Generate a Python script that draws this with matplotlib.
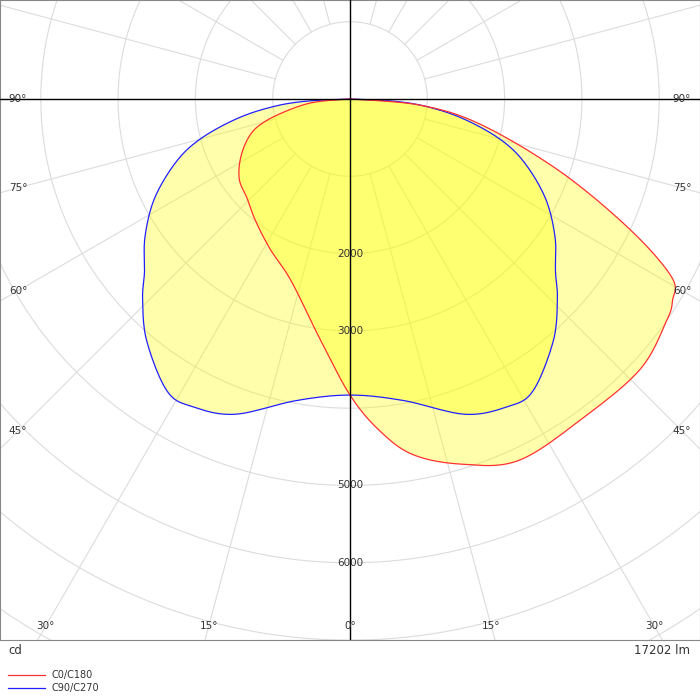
import numpy as np
import matplotlib.pyplot as plt

# Intensity values (cd), angle 0 = straight down
C90_ANG = [0, 10, 20, 27, 32, 40, 46, 50, 56, 63, 70, 75, 80, 84, 87, 90]
C90_CD = [3830, 3960, 4340, 4470, 4460, 4090, 3730, 3470, 3200, 2840, 2400, 2010, 1500, 1040, 600, 0]

C0_ANG = [0, 5, 10, 17, 25, 36, 47, 55, 58, 61, 65, 71, 79, 85, 90]
C0_CD = [3830, 4300, 4670, 4940, 5160, 5110, 5130, 5000, 4920, 4760, 4000, 2870, 1720, 910, 0]
C180_ANG = [0, 7, 18, 28, 38, 46, 54, 62, 70, 75, 80, 85, 90]
C180_CD = [3830, 3140, 2470, 2200, 1990, 1850, 1770, 1600, 1380, 1150, 790, 450, 0]

RINGS = list(range(1000, 10001, 1000))
RING_LABELS = [2000, 3000, 5000, 6000]
SIDE_LABELS = [45, 60, 75, 90]
BOTTOM_LABELS = [30, 15, 0]
LUMEN = "17202 lm"

S = 0.0773  # px per cd
XMAX = 350 / S
YTOP = 99 / S
YBOT = -541 / S


def catmull(px, py, n=12):
    """Smooth a polyline through its points (Catmull-Rom)."""
    p = np.column_stack([px, py])
    p = np.vstack([p[0], p, p[-1]])
    out = []
    tt = np.linspace(0, 1, n, endpoint=False)[:, None]
    for i in range(1, len(p) - 2):
        p0, p1, p2, p3 = p[i - 1], p[i], p[i + 1], p[i + 2]
        seg = 0.5 * ((2 * p1) + (-p0 + p2) * tt + (2 * p0 - 5 * p1 + 4 * p2 - p3) * tt ** 2
                     + (-p0 + 3 * p1 - 3 * p2 + p3) * tt ** 3)
        out.append(seg)
    out.append(p[-2][None, :])
    o = np.vstack(out)
    return o[:, 0], o[:, 1]


def xy(ang, cd, side):
    a = np.radians(ang)
    cd = np.asarray(cd, float)
    return side * cd * np.sin(a), -cd * np.cos(a)


fig = plt.figure(figsize=(7, 7), dpi=100)
ax = fig.add_axes([0, 60 / 700, 1, 640 / 700])
ax.set_xlim(-XMAX, XMAX)
ax.set_ylim(YBOT, YTOP)
ax.set_xticks([])
ax.set_yticks([])
for s in ax.spines.values():
    s.set_color("#888888")

t = np.linspace(0, 2 * np.pi, 400)
for r in RINGS:
    ax.plot(r * np.cos(t), r * np.sin(t), color="#dcdcdc", lw=0.8, zorder=1)
for a in range(0, 360, 15):
    ar = np.radians(a)
    ax.plot([1000 * np.sin(ar), 12000 * np.sin(ar)], [-1000 * np.cos(ar), -12000 * np.cos(ar)],
            color="#dcdcdc", lw=0.8, zorder=1)
ax.axhline(0, color="black", lw=1, zorder=5)
ax.axvline(0, color="black", lw=1, zorder=5)

# C90/C270 (symmetric)
xr, yr = xy(C90_ANG, C90_CD, 1)
bx, by = catmull(np.concatenate([-xr[::-1], xr[1:]]), np.concatenate([yr[::-1], yr[1:]]))
# C0/C180
x0, y0 = xy(C0_ANG, C0_CD, 1)
x1, y1 = xy(C180_ANG, C180_CD, -1)
rx, ry = catmull(np.concatenate([x1[::-1], x0[1:]]), np.concatenate([y1[::-1], y0[1:]]))

ax.fill(bx, by, color="#ffff00", alpha=0.33, lw=0, zorder=2)
ax.fill(rx, ry, color="#ffff00", alpha=0.33, lw=0, zorder=2)
ax.plot(bx, by, color="#2020ff", lw=0.9, zorder=4)
ax.plot(rx, ry, color="#ff3030", lw=0.9, zorder=4)

for r in RING_LABELS:
    ax.text(0, -r, str(r), ha="center", va="center", fontsize=7.5, color="#333333", zorder=6)

lab = dict(ha="center", va="center", fontsize=7.5, color="#333333", zorder=6)
for a in SIDE_LABELS:
    xl = XMAX - 18 / S
    yl = -xl / np.tan(np.radians(a))
    for sd in (-1, 1):
        ax.text(sd * xl, yl, f"{a}°", **lab)
for a in BOTTOM_LABELS:
    yl = YBOT + 14 / S
    xl = -yl * np.tan(np.radians(a))
    for sd in ((1,) if a == 0 else (-1, 1)):
        ax.text(sd * xl, yl, f"{a}°", **lab)

fig.text(8 / 700, 1 - 650 / 700, "cd", fontsize=8.5, va="center", color="#333333")
fig.text(690 / 700, 1 - 650 / 700, LUMEN, fontsize=8.5, va="center", ha="right", color="#333333")
fig.lines.append(plt.Line2D([8 / 700, 45 / 700], [1 - 675 / 700] * 2, color="#ff3030", lw=0.9,
                            transform=fig.transFigure))
fig.lines.append(plt.Line2D([8 / 700, 45 / 700], [1 - 688 / 700] * 2, color="#2020ff", lw=0.9,
                            transform=fig.transFigure))
fig.text(52 / 700, 1 - 675 / 700, "C0/C180", fontsize=7, va="center", color="#333333")
fig.text(52 / 700, 1 - 688 / 700, "C90/C270", fontsize=7, va="center", color="#333333")

fig.savefig("out.png", dpi=100)
